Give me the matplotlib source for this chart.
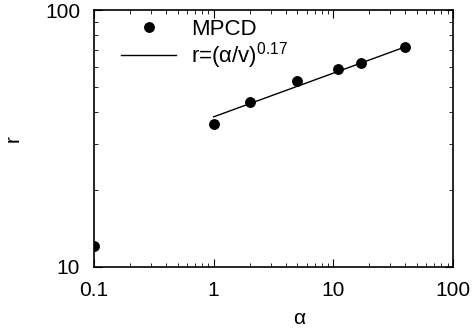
import matplotlib
matplotlib.use('Agg')
import matplotlib.pyplot as plt
import numpy as np
from matplotlib.ticker import LogLocator, NullFormatter, FixedLocator, FixedFormatter

plt.rcParams['font.family'] = ['Liberation Sans', 'DejaVu Sans']
plt.rcParams['mathtext.fontset'] = 'custom'
plt.rcParams['mathtext.rm'] = 'Liberation Sans'
plt.rcParams['mathtext.it'] = 'Liberation Sans'

# MPCD data
alpha = [0.1, 1, 2, 5, 11, 17, 40]
r = [12.1, 36.0, 43.9, 52.9, 58.8, 62.2, 71.8]

# fitted power law, r = c * alpha^0.17
fit_alpha = [1, 40]
fit_c = 38.4
fit_exp = 0.17

fig = plt.figure(figsize=(4.74, 3.31), dpi=100)
ax = fig.add_axes([94 / 474, 1 - 267 / 331, (453 - 94) / 474, (267 - 10) / 331])

ax.plot(alpha, r, 'o', color='black', markersize=6.8, label='MPCD')
fx = np.array(fit_alpha, dtype=float)
ax.plot(fx, fit_c * fx ** fit_exp, '-', color='black', linewidth=1.0,
        label=r'r=($\mathregular{\alpha}$/v)$^{0.17}$')

ax.set_xscale('log')
ax.set_yscale('log')
ax.set_xlim(0.1, 100)
ax.set_ylim(10, 100)

ax.xaxis.set_major_locator(FixedLocator([0.1, 1, 10, 100]))
ax.xaxis.set_major_formatter(FixedFormatter(['0.1', '1', '10', '100']))
ax.xaxis.set_minor_locator(LogLocator(base=10, subs=np.arange(2, 10), numticks=20))
ax.xaxis.set_minor_formatter(NullFormatter())
ax.yaxis.set_major_locator(FixedLocator([10, 100]))
ax.yaxis.set_major_formatter(FixedFormatter(['10', '100']))
ax.yaxis.set_minor_locator(LogLocator(base=10, subs=np.arange(2, 10), numticks=20))
ax.yaxis.set_minor_formatter(NullFormatter())

ax.tick_params(which='both', direction='in', top=True, right=True, labelsize=15)
ax.tick_params(which='major', length=6, width=0.8)
ax.tick_params(which='minor', length=3, width=0.6)
ax.tick_params(axis='x', pad=10)
ax.tick_params(axis='y', pad=10)
for s in ax.spines.values():
    s.set_linewidth(1.2)

# axis labels sit close to the figure edges, as in the original
ax.set_xlabel(r'$\mathregular{\alpha}$', fontsize=15)
ax.xaxis.set_label_coords(0.574, -0.163)
ax.set_ylabel('r', fontsize=15)
ax.yaxis.set_label_coords(-0.198, 0.5)

ax.legend(loc='upper left', bbox_to_anchor=(0.05, 1.0), frameon=False, fontsize=16,
          handlelength=2.5, handletextpad=0.65, labelspacing=0.0, borderaxespad=0)

fig.savefig('out.png', dpi=100)
